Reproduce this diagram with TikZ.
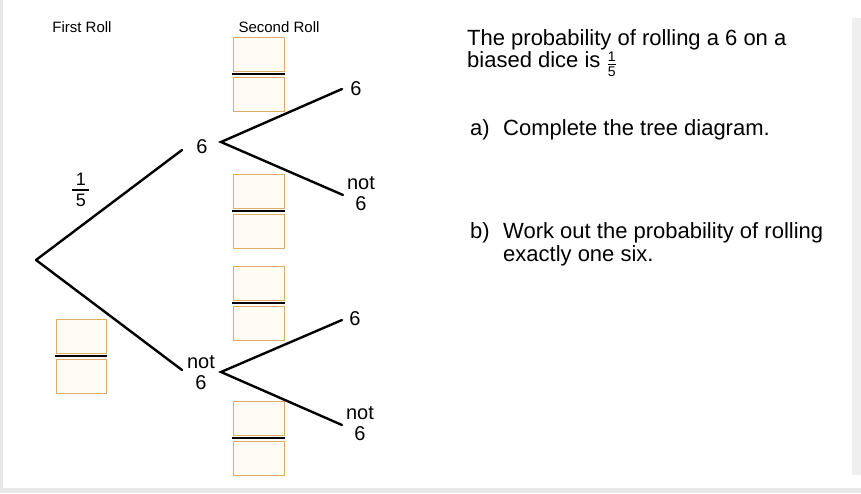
\documentclass[tikz,border=0pt]{standalone}
\usepackage{fontspec}
\setmainfont{Liberation Sans}
\definecolor{boxc}{RGB}{222,172,105}
\definecolor{boxfill}{RGB}{255,252,245}
\definecolor{frame}{RGB}{232,232,232}
\newcommand\ansfrac[3]{%
  \draw[ansbox] (#1,#3-37) rectangle (#2,#3-3);
  \draw[ansbox] (#1,#3+3) rectangle (#2,#3+37);
  \draw[frbar] (#1-1,#3) -- (#2+1,#3);}
\begin{document}
\begin{tikzpicture}[x=1pt,y=-1pt,
  branch/.style={line width=2.4pt, line cap=round},
  lbl/.style={font=\fontsize{20}{21}\selectfont, inner sep=0pt, align=center},
  ansbox/.style={draw=boxc, line width=0.9pt, fill=boxfill},
  frbar/.style={line width=2.6pt},
  qtext/.style={font=\fontsize{22}{22}\selectfont, anchor=base west, inner sep=0pt},
  head/.style={font=\fontsize{15}{15}\selectfont, inner sep=0pt},
  fdig/.style={font=\fontsize{18}{18}\selectfont, inner sep=0pt}]
\useasboundingbox (0,0) rectangle (861,493);
\fill[white] (0,0) rectangle (861,493);
% frame
\fill[frame] (0,0) rectangle (3,488);
\fill[frame] (0,488) rectangle (861,493);
\fill[frame!70] (852,18) rectangle (861,475);
% headers
\node[head] (h1) at (82,27.5) {First Roll};
\node[head] (h2) at (279,27.5) {Second Roll};
% answer boxes
\ansfrac{233}{284}{74}
\ansfrac{233}{284}{211}
\ansfrac{233}{284}{303}
\ansfrac{233}{284}{438}
\ansfrac{56}{106}{356}
% given fraction on first branch
\node[fdig] (f1) at (81,179) {1};
\node[fdig] (f5) at (81,200) {5};
\draw[line width=1.5pt] (72,190) -- (89,190);
% tree coordinates
\coordinate (root) at (36,260);
\coordinate (a6) at (182,150);
\coordinate (an) at (182,370);
\coordinate (v6) at (221,142);
\coordinate (vn) at (221,372);
\coordinate (b66) at (342,89);
\coordinate (b6n) at (343,195);
\coordinate (bn6) at (342,320);
\coordinate (bnn) at (342,425);
\draw[branch] (root) -- (a6);
\draw[branch] (root) -- (an);
\draw[branch] (b66) -- (v6) -- (b6n);
\draw[branch] (bn6) -- (vn) -- (bnn);
% labels
\node[lbl] (l6) at (202,147) {6};
\node[lbl] (ln) at (201,373) {not\\6};
\node[lbl] (l66) at (356,89) {6};
\node[lbl] (l6n) at (361,194) {not\\6};
\node[lbl] (ln6) at (355,319) {6};
\node[lbl] (lnn) at (360,424) {not\\6};
% question text
\node[qtext] (q1) at (467,45) {The probability of rolling a 6 on a};
\node[qtext] (q2) at (467,67) {biased dice is \raisebox{-2.5pt}{$\frac{\mbox{\fontsize{14}{14}\selectfont 1}}{\mbox{\fontsize{14}{14}\selectfont 5}}$}};
\node[qtext] (qa) at (470,135) {a)};
\node[qtext] (qat) at (503,135) {Complete the tree diagram.};
\node[qtext] (qb) at (470,238) {b)};
\node[qtext] (qbt) at (503,238) {Work out the probability of rolling};
\node[qtext] (qbt2) at (503,261) {exactly one six.};
\end{tikzpicture}
\end{document}
